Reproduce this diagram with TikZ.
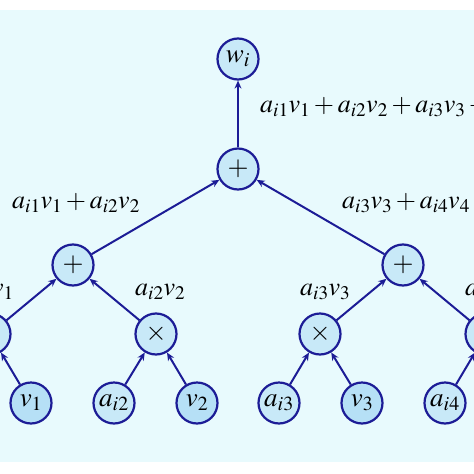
\documentclass[tikz,border=0pt]{standalone}
\usepackage{mathptmx}
\usetikzlibrary{arrows.meta}
\definecolor{bgc}{HTML}{E8FAFD}
\definecolor{nodefill}{HTML}{C8E9F8}
\definecolor{vfill}{HTML}{B6E0F6}
\definecolor{navy}{HTML}{1C1C96}
\tikzset{
  opnode/.style={circle,draw=navy,line width=2.2pt,fill=nodefill,minimum size=41pt,inner sep=0pt,font=\fontsize{27}{31}\selectfont},
  vnode/.style={opnode,fill=vfill},
  edge/.style={draw=navy,line width=2pt,-{Stealth[length=8pt,width=7pt]}},
  lbl/.style={font=\fontsize{26}{30}\selectfont,inner sep=0pt}
}
\begin{document}
\begin{tikzpicture}[x=1pt,y=-1pt]
\useasboundingbox (0,0) rectangle (474,474);
\clip (0,0) rectangle (474,474);
\fill[bgc] (0,10) rectangle (474,462);
\node[opnode] (w) at (238,59) {$w_i$};
\node[opnode] (p0) at (238,169) {$+$};
\node[opnode] (pL) at (73,265) {$+$};
\node[opnode] (pR) at (403,265) {$+$};
\node[opnode] (mLL) at (-10,334) {$\times$};
\node[opnode] (mL) at (156,334) {$\times$};
\node[opnode] (mR) at (320,334) {$\times$};
\node[opnode] (mRR) at (486,334) {$\times$};
\node[opnode] (a1) at (-52,403) {$a_{i1}$};
\node[vnode] (v1) at (31,403) {$v_1$};
\node[opnode] (a2) at (114,403) {$a_{i2}$};
\node[vnode] (v2) at (197,403) {$v_2$};
\node[opnode] (a3) at (279,403) {$a_{i3}$};
\node[vnode] (v3) at (362,403) {$v_3$};
\node[opnode] (a4) at (445,403) {$a_{i4}$};
\node[vnode] (v4) at (528,403) {$v_4$};
\draw[edge] (p0) -- (w);
\draw[edge] (pL) -- (p0);
\draw[edge] (pR) -- (p0);
\draw[edge] (mLL) -- (pL);
\draw[edge] (mL) -- (pL);
\draw[edge] (mR) -- (pR);
\draw[edge] (mRR) -- (pR);
\draw[edge] (a1) -- (mLL);
\draw[edge] (v1) -- (mLL);
\draw[edge] (a2) -- (mL);
\draw[edge] (v2) -- (mL);
\draw[edge] (a3) -- (mR);
\draw[edge] (v3) -- (mR);
\draw[edge] (a4) -- (mRR);
\draw[edge] (v4) -- (mRR);
\node[lbl,anchor=west] (l0) at (260,107) {$a_{i1}v_1+a_{i2}v_2+a_{i3}v_3+a_{i4}v_4$};
\node[lbl,anchor=west] (lL) at (12,203) {$a_{i1}v_1+a_{i2}v_2$};
\node[lbl,anchor=west] (lR) at (342,203) {$a_{i3}v_3+a_{i4}v_4$};
\node[lbl,anchor=east] (lLL) at (14,292) {$a_{i1}v_1$};
\node[lbl,anchor=west] (lM2) at (135,292) {$a_{i2}v_2$};
\node[lbl,anchor=west] (lM3) at (300,292) {$a_{i3}v_3$};
\node[lbl,anchor=west] (lRR) at (465,292) {$a_{i4}v_4$};
\end{tikzpicture}
\end{document}
